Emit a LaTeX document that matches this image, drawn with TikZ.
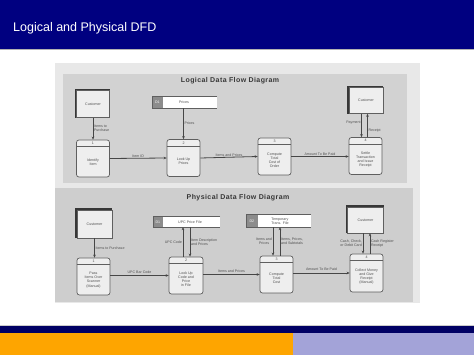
\documentclass[tikz,border=0pt]{standalone}
\usepackage{fontspec}
\setmainfont{Liberation Sans}
\usetikzlibrary{arrows.meta,calc}
\definecolor{navy}{RGB}{0,0,128}
\definecolor{bandnavy}{RGB}{0,0,100}
\definecolor{orangefoot}{RGB}{254,165,0}
\definecolor{lavfoot}{RGB}{163,163,216}
\definecolor{photo}{RGB}{232,232,232}
\definecolor{panel}{RGB}{210,210,210}
\definecolor{panelb}{RGB}{206,206,206}
\definecolor{boxline}{RGB}{95,95,95}
\definecolor{boxfill}{RGB}{238,238,238}
\definecolor{entdark}{RGB}{55,55,55}
\definecolor{txt}{RGB}{80,80,80}
\definecolor{arr}{RGB}{70,70,70}
\definecolor{dbox}{RGB}{140,140,140}
\newcommand\procparts[3]{%
  \draw[boxline,line width=0.6pt] ($(#1.north west)+(0,7)$) -- ($(#1.north east)+(0,7)$);
  \node[lbl] (#1n) at ($(#1.north)+(0,3.6)$) {#2};
  \node[lbl,align=center] (#1t) at ($(#1.center)+(0,3.5)$) {#3};}
\newcommand\entparts[2]{%
  \draw[entdark,line width=1.6pt] ($(#1.south west)+(-0.9,0)$) |- ($(#1.north east)+(0,-0.9)$);
  \node[lbl] (#1t) at (#1.center) {#2};}
\newcommand\storeparts[3]{%
  \fill[dbox] (#1.north west) rectangle ($(#1.south west)+(#3,0)$);
  \draw[boxline,line width=0.6pt] (#1.north east) -- (#1.north west) -- (#1.south west) -- (#1.south east);
  \node[lbl,text=white] (#1d) at ($(#1.west)+(#3/2,0)$) {#2};}
\begin{document}
\begin{tikzpicture}[x=1pt,y=-1pt,
  lbl/.style={font=\fontsize{3.6}{4.1}\selectfont, text=txt, inner sep=0.6pt},
  proc/.style={draw=boxline, fill=boxfill, rounded corners=2.5pt, line width=0.7pt, minimum width=33pt, minimum height=37pt, inner sep=0pt},
  ent/.style={draw=boxline, fill=boxfill, line width=0.5pt, minimum width=34pt, minimum height=27pt, inner sep=0pt},
  store/.style={fill=white, minimum width=65pt, minimum height=11pt, inner sep=0pt},
  flow/.style={draw=arr, line width=0.8pt, -{Stealth[length=3pt,width=2.6pt]}},
  ptitle/.style={font=\bfseries\fontsize{7}{8}\selectfont\addfontfeature{LetterSpace=6}, text=entdark, inner sep=0pt}]
\useasboundingbox (0,0) rectangle (474,355);
% header and footer
\fill[navy] (0,0) rectangle (474,49);
\fill[gray!60] (0,49) rectangle (474,50.2);
\node[anchor=west, text=white, font=\fontsize{12.5}{14}\selectfont, inner sep=0pt] (title) at (13,28) {Logical and Physical DFD};
\fill[gray!40] (0,325.5) rectangle (474,326.5);
\fill[bandnavy] (0,326.5) rectangle (474,333);
\fill[orangefoot] (0,333) rectangle (293,355);
\fill[lavfoot] (293,333) rectangle (474,355);
% photo
\fill[photo] (55,63) rectangle (420,303);
\fill[panel] (63,74) rectangle (407,183);
\fill[panelb] (55,188) rectangle (413,302);
\node[ptitle] (lt) at (230,81) {Logical Data Flow Diagram};
\node[ptitle] (pt) at (238,198) {Physical Data Flow Diagram};
% ---------- logical ----------
\node[ent, minimum width=33pt] (c1) at (93,104) {};
\entparts{c1}{Customer}
\node[ent, minimum width=34pt, minimum height=26pt] (c2) at (366,100.5) {};
\entparts{c2}{Customer}
\node[store] (d1) at (184.5,102.5) {};
\storeparts{d1}{D1}{11}
\node[lbl] (d1x) at (184,102.5) {Prices};
\node[proc] (p1) at (93,158.5) {};
\procparts{p1}{1}{Identify\\Item}
\node[proc] (p2) at (183.5,158) {};
\procparts{p2}{2}{Look Up\\Prices}
\node[proc] (p3) at (274.5,156.5) {};
\procparts{p3}{3}{Compute\\Total\\Cost of\\Order}
\node[proc] (p4) at (365.5,156) {};
\procparts{p4}{4}{Settle\\Transaction\\and Issue\\Receipt}
\coordinate (p4l) at ($(p4.north)+(-4,0)$);
\coordinate (p4r) at ($(p4.north)+(2,0)$);
\draw[flow] (c1.south) -- node[lbl, right, align=left] {Items to\\Purchase} (p1.north);
\draw[flow] (p1.east) -- node[lbl, above] {Item ID} (p2.west);
\draw[flow] (p2.north |- d1.south) -- node[lbl, right] {Prices} (p2.north);
\draw[flow] (p2.east) -- node[lbl, above] {Items and Prices} (p3.west);
\draw[flow] (p3.east) -- node[lbl, above] {Amount To Be Paid} (p3.east -| p4.west);
\draw[flow] (p4l |- c2.south) -- node[lbl, left, pos=0.4] {Payment} (p4l);
\draw[flow] (p4r) -- node[lbl, right, pos=0.3] {Receipt} (p4r |- c2.south);
% ---------- physical ----------
\node[ent, minimum width=35pt, minimum height=28pt] (c3) at (94.5,224) {};
\entparts{c3}{Customer}
\node[ent, minimum width=36pt, minimum height=26pt] (c4) at (365.5,220) {};
\entparts{c4}{Customer}
\node[store, minimum width=67pt, minimum height=10pt] (d3) at (186.5,222) {};
\storeparts{d3}{D1}{10}
\node[lbl] (d3x) at (190,222) {UPC Price File};
\node[store, minimum width=65pt, minimum height=12pt] (d2) at (278.5,221) {};
\storeparts{d2}{D2}{12}
\node[lbl, align=left] (d2x) at (280,221) {Temporary\\Trans. File};
\node[proc] (p5) at (93.5,276.5) {};
\procparts{p5}{1}{Pass\\Items Over\\Scanner\\(Manual)}
\node[proc, minimum width=34pt] (p6) at (186,275.5) {};
\procparts{p6}{2}{Look Up\\Code and\\Price\\in File}
\node[proc] (p7) at (276.5,274.5) {};
\procparts{p7}{3}{Compute\\Total\\Cost}
\node[proc, minimum height=38pt] (p8) at (366.5,273) {};
\procparts{p8}{4}{Collect Money\\and Give\\Receipt\\(Manual)}
\coordinate (p6l) at ($(p6.north)+(-3,0)$);
\coordinate (p6r) at ($(p6.north)+(4,0)$);
\coordinate (p7l) at ($(p7.north)+(-3.5,0)$);
\coordinate (p7r) at ($(p7.north)+(3.5,0)$);
\coordinate (p8l) at ($(p8.north)+(-3.5,0)$);
\coordinate (p8r) at ($(p8.north)+(3.5,0)$);
\draw[flow] (c3.south) -- node[lbl, right] {Items to Purchase} (c3.south |- p5.north);
\draw[flow] (p5.east |- p6.west) -- node[lbl, above=1pt] {UPC Bar Code} (p6.west);
\draw[flow] (p6l) -- node[lbl, left] {UPC Code} (p6l |- d3.south);
\draw[flow] (p6r |- d3.south) -- node[lbl, right, align=left] {Item Description\\and Prices} (p6r);
\draw[flow] (p6.east |- p7.west) -- node[lbl, above=1pt] {Items and Prices} (p7.west);
\draw[flow] (p7l |- d2.south) -- node[lbl, left, align=center] {Items and\\Prices} (p7l);
\draw[flow] (p7r) -- node[lbl, right, align=left] {Items, Prices,\\and Subtotals} (p7r |- d2.south);
\draw[flow] (p7.east |- p8.west) -- node[lbl, above=1pt] {Amount To Be Paid} (p8.west);
\draw[flow] (p8l |- c4.south) -- node[lbl, left, align=center] {Cash, Check,\\or Debit Card} (p8l);
\draw[flow] (p8r) -- node[lbl, right, align=left] {Cash Register\\Receipt} (p8r |- c4.south);
\end{tikzpicture}
\end{document}
